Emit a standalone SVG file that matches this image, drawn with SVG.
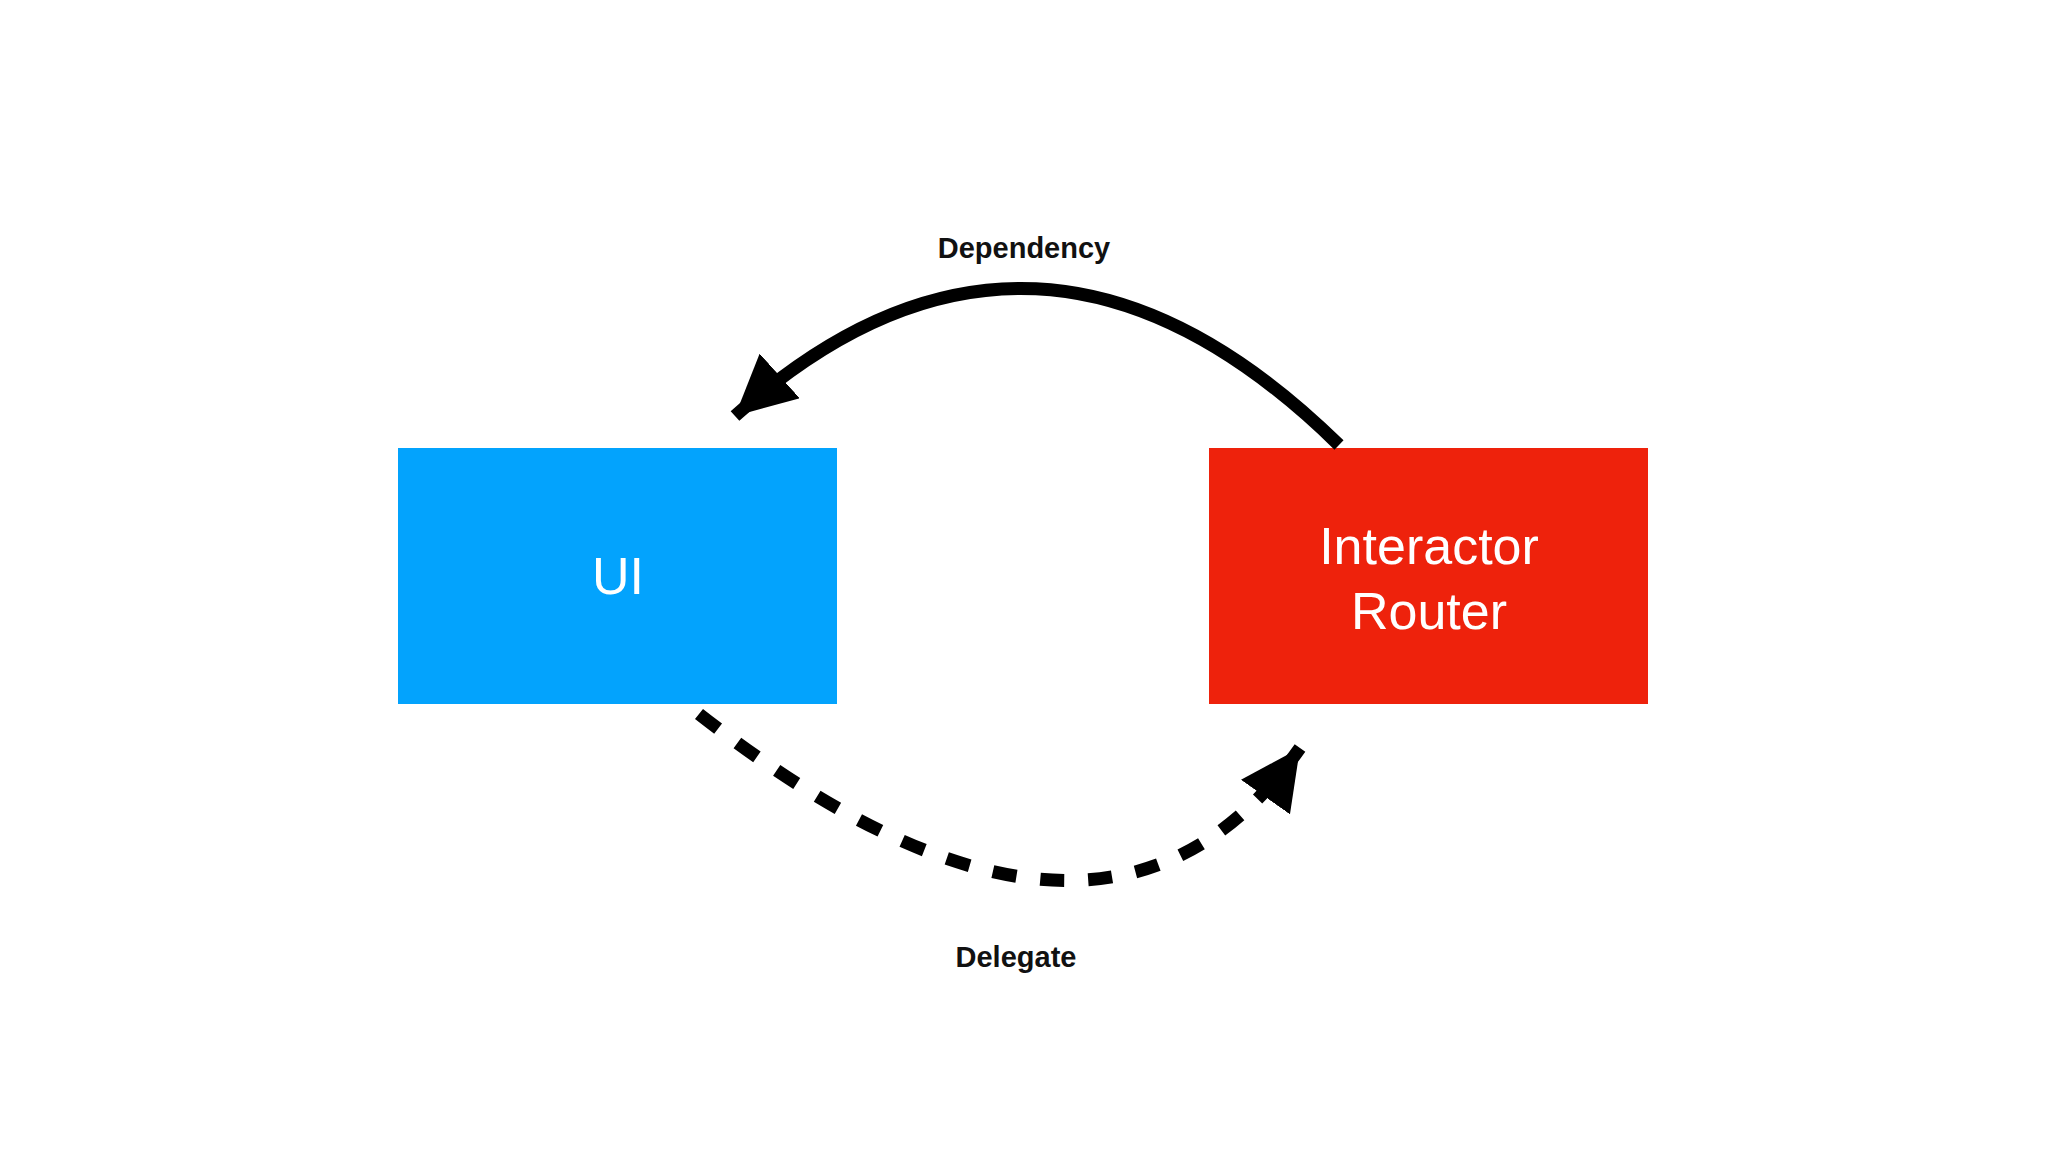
<svg xmlns="http://www.w3.org/2000/svg" width="2048" height="1152" viewBox="0 0 2048 1152">
<style>
.lbl{font-family:"Liberation Sans",Arial,sans-serif;font-weight:bold;font-size:29px;fill:#111;text-anchor:middle}
.nt{font-family:"Liberation Sans",Arial,sans-serif;font-size:52px;fill:#fff;text-anchor:middle}
.c{fill:none;stroke:#000;stroke-width:13}
</style>
<defs>
<marker id="ah" markerUnits="userSpaceOnUse" markerWidth="70" markerHeight="60" refX="60" refY="30" orient="auto">
<path d="M0,0 L60,30 L0,60 Z" fill="#000"/>
</marker>
</defs>
<rect width="2048" height="1152" fill="#fff"/>
<g id="ui"><rect x="398" y="448" width="439" height="256" fill="#03A3FD"/><text class="nt" x="618" y="594">UI</text></g>
<g id="interactor"><rect x="1209" y="448" width="439" height="256" fill="#EE220C"/><text class="nt" x="1429" y="564">Interactor</text><text class="nt" x="1429" y="629">Router</text></g>
<g id="connectors">
<path class="c" d="M1339,445 Q1035,147 735,416" marker-end="url(#ah)"/>
<path class="c" d="M699,714 Q1102,1029 1300,748" stroke-dasharray="24,24" marker-end="url(#ah)"/>
<path d="M1300,748" />
<text class="lbl" x="1024" y="258">Dependency</text>
<text class="lbl" x="1016" y="967">Delegate</text>
</g>
</svg>
